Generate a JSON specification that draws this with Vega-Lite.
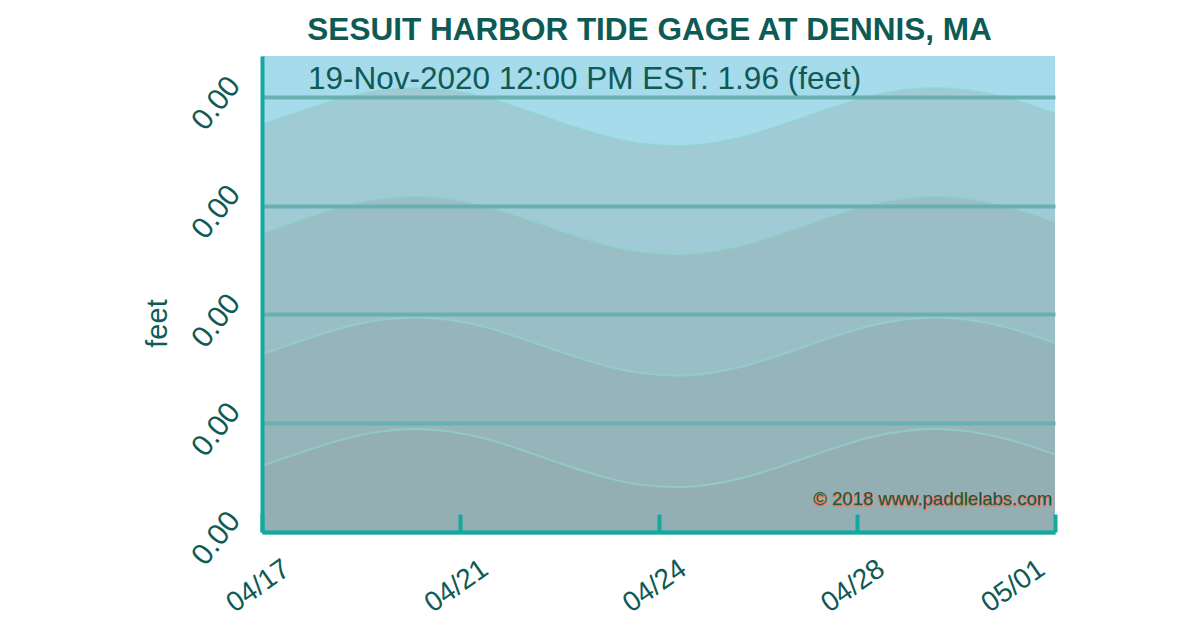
{
  "$schema": "https://vega.github.io/schema/vega-lite/v6.json",
  "width": 793,
  "height": 476,
  "autosize": "none",
  "padding": {"left": 262, "top": 56, "right": 145, "bottom": 98},
  "background": "white",
  "title": {
    "text": "SESUIT HARBOR TIDE GAGE AT DENNIS, MA",
    "fontSize": 31.5,
    "fontWeight": "bold",
    "color": "#0e5a55",
    "anchor": "middle",
    "baseline": "alphabetic",
    "offset": 16,
    "dx": -9,
    "dy": 31
  },
  "datasets": {
    "tide": [
      {"wave": 1, "day": 0, "level": 0.003743},
      {"wave": 1, "day": 0.67, "level": 0.003864},
      {"wave": 1, "day": 1.38, "level": 0.003981},
      {"wave": 1, "day": 2.08, "level": 0.004059},
      {"wave": 1, "day": 2.7, "level": 0.004083},
      {"wave": 1, "day": 3.32, "level": 0.004059},
      {"wave": 1, "day": 4.03, "level": 0.003981},
      {"wave": 1, "day": 4.73, "level": 0.003864},
      {"wave": 1, "day": 5.44, "level": 0.003737},
      {"wave": 1, "day": 6.14, "level": 0.003627},
      {"wave": 1, "day": 6.76, "level": 0.003567},
      {"wave": 1, "day": 7.29, "level": 0.003549},
      {"wave": 1, "day": 7.91, "level": 0.003573},
      {"wave": 1, "day": 8.62, "level": 0.003651},
      {"wave": 1, "day": 9.32, "level": 0.003768},
      {"wave": 1, "day": 10.03, "level": 0.003895},
      {"wave": 1, "day": 10.73, "level": 0.004005},
      {"wave": 1, "day": 11.35, "level": 0.004065},
      {"wave": 1, "day": 11.88, "level": 0.004083},
      {"wave": 1, "day": 12.5, "level": 0.004059},
      {"wave": 1, "day": 13.21, "level": 0.003981},
      {"wave": 1, "day": 14, "level": 0.003848},
      {"wave": 2, "day": 0, "level": 0.00275},
      {"wave": 2, "day": 0.67, "level": 0.002871},
      {"wave": 2, "day": 1.38, "level": 0.002988},
      {"wave": 2, "day": 2.08, "level": 0.003066},
      {"wave": 2, "day": 2.7, "level": 0.00309},
      {"wave": 2, "day": 3.32, "level": 0.003066},
      {"wave": 2, "day": 4.03, "level": 0.002988},
      {"wave": 2, "day": 4.73, "level": 0.002871},
      {"wave": 2, "day": 5.44, "level": 0.002744},
      {"wave": 2, "day": 6.14, "level": 0.002634},
      {"wave": 2, "day": 6.76, "level": 0.002574},
      {"wave": 2, "day": 7.29, "level": 0.002556},
      {"wave": 2, "day": 7.91, "level": 0.00258},
      {"wave": 2, "day": 8.62, "level": 0.002658},
      {"wave": 2, "day": 9.32, "level": 0.002775},
      {"wave": 2, "day": 10.03, "level": 0.002902},
      {"wave": 2, "day": 10.73, "level": 0.003012},
      {"wave": 2, "day": 11.35, "level": 0.003072},
      {"wave": 2, "day": 11.88, "level": 0.00309},
      {"wave": 2, "day": 12.5, "level": 0.003066},
      {"wave": 2, "day": 13.21, "level": 0.002988},
      {"wave": 2, "day": 14, "level": 0.002855},
      {"wave": 3, "day": 0, "level": 0.001633},
      {"wave": 3, "day": 0.67, "level": 0.001754},
      {"wave": 3, "day": 1.38, "level": 0.001871},
      {"wave": 3, "day": 2.08, "level": 0.001949},
      {"wave": 3, "day": 2.7, "level": 0.001973},
      {"wave": 3, "day": 3.32, "level": 0.001949},
      {"wave": 3, "day": 4.03, "level": 0.001871},
      {"wave": 3, "day": 4.73, "level": 0.001754},
      {"wave": 3, "day": 5.44, "level": 0.001627},
      {"wave": 3, "day": 6.14, "level": 0.001517},
      {"wave": 3, "day": 6.76, "level": 0.001457},
      {"wave": 3, "day": 7.29, "level": 0.001439},
      {"wave": 3, "day": 7.91, "level": 0.001463},
      {"wave": 3, "day": 8.62, "level": 0.001541},
      {"wave": 3, "day": 9.32, "level": 0.001658},
      {"wave": 3, "day": 10.03, "level": 0.001785},
      {"wave": 3, "day": 10.73, "level": 0.001895},
      {"wave": 3, "day": 11.35, "level": 0.001955},
      {"wave": 3, "day": 11.88, "level": 0.001973},
      {"wave": 3, "day": 12.5, "level": 0.001949},
      {"wave": 3, "day": 13.21, "level": 0.001871},
      {"wave": 3, "day": 14, "level": 0.001738},
      {"wave": 4, "day": 0, "level": 0.000607},
      {"wave": 4, "day": 0.67, "level": 0.000728},
      {"wave": 4, "day": 1.38, "level": 0.000845},
      {"wave": 4, "day": 2.08, "level": 0.000923},
      {"wave": 4, "day": 2.7, "level": 0.000947},
      {"wave": 4, "day": 3.32, "level": 0.000923},
      {"wave": 4, "day": 4.03, "level": 0.000845},
      {"wave": 4, "day": 4.73, "level": 0.000728},
      {"wave": 4, "day": 5.44, "level": 0.000601},
      {"wave": 4, "day": 6.14, "level": 0.000491},
      {"wave": 4, "day": 6.76, "level": 0.000431},
      {"wave": 4, "day": 7.29, "level": 0.000413},
      {"wave": 4, "day": 7.91, "level": 0.000437},
      {"wave": 4, "day": 8.62, "level": 0.000515},
      {"wave": 4, "day": 9.32, "level": 0.000632},
      {"wave": 4, "day": 10.03, "level": 0.000759},
      {"wave": 4, "day": 10.73, "level": 0.000869},
      {"wave": 4, "day": 11.35, "level": 0.000929},
      {"wave": 4, "day": 11.88, "level": 0.000947},
      {"wave": 4, "day": 12.5, "level": 0.000923},
      {"wave": 4, "day": 13.21, "level": 0.000845},
      {"wave": 4, "day": 14, "level": 0.000712}
    ],
    "reading": [
      {"label": "19-Nov-2020 12:00 PM EST: 1.96 (feet)", "day": 0.81, "level": 0.004074}
    ],
    "credit": [
      {"label": "© 2018 www.paddlelabs.com", "day": 13.95, "level": 0.000248}
    ]
  },
  "layer": [
    {
      "data": {"name": "tide"},
      "mark": {
        "type": "area",
        "interpolate": "monotone",
        "color": "#8fa2a2",
        "fillOpacity": 0.3,
        "line": {"color": "#90d4cc", "strokeWidth": 2, "opacity": 0.7}
      },
      "encoding": {
        "x": {
          "field": "day",
          "type": "quantitative",
          "scale": {"domain": [0, 14], "nice": false},
          "axis": {
            "title": null,
            "values": [0, 3.5, 7, 10.5, 14],
            "labelExpr": "datum.value == 0 ? '04/17' : datum.value == 3.5 ? '04/21' : datum.value == 7 ? '04/24' : datum.value == 10.5 ? '04/28' : '05/01'",
            "labelAngle": -35,
            "labelAlign": "center",
            "labelBaseline": "middle",
            "labelFontSize": 28,
            "labelColor": "#0e5a55",
            "labelPadding": 72,
            "labelFlush": false,
            "labelOverlap": false,
            "labelOffset": {"condition": {"test": "datum.value == 14", "value": -42}, "value": -4},
            "tickSize": -18,
            "tickWidth": 4,
            "tickColor": "#14a99f",
            "domainColor": "#14a99f",
            "domainWidth": 4,
            "grid": false,
            "zindex": 1
          }
        },
        "y": {
          "field": "level",
          "type": "quantitative",
          "stack": null,
          "scale": {"domain": [0, 0.004377], "nice": false},
          "axis": {
            "title": "feet",
            "titleFontSize": 29,
            "titleFontWeight": "normal",
            "titleColor": "#0e5a55",
            "titleX": -90,
            "titleY": 267,
            "values": [0, 0.001, 0.002, 0.003, 0.004],
            "format": ".2f",
            "ticks": false,
            "labelAngle": -52,
            "labelAlign": "center",
            "labelBaseline": "middle",
            "labelFontSize": 30,
            "labelColor": "#0e5a55",
            "labelPadding": 46,
            "labelOffset": 6,
            "labelOverlap": false,
            "domainColor": "#14a99f",
            "domainWidth": 4,
            "gridColor": "#6ab0b1",
            "gridWidth": 4,
            "gridOpacity": 1,
            "zindex": 1
          }
        },
        "detail": {"field": "wave", "type": "nominal"}
      }
    },
    {
      "data": {"name": "reading"},
      "mark": {"type": "text", "align": "left", "baseline": "alphabetic", "fontSize": 31.5, "color": "#0e5a55"},
      "encoding": {
        "x": {"field": "day", "type": "quantitative"},
        "y": {"field": "level", "type": "quantitative"},
        "text": {"field": "label"}
      }
    },
    {
      "data": {"name": "credit"},
      "mark": {"type": "text", "align": "right", "baseline": "alphabetic", "fontSize": 18.5, "color": "#ef7444", "stroke": "#ef7444", "strokeWidth": 1.2, "dx": 0.5, "dy": 1},
      "encoding": {
        "x": {"field": "day", "type": "quantitative"},
        "y": {"field": "level", "type": "quantitative"},
        "text": {"field": "label"}
      }
    },
    {
      "data": {"name": "credit"},
      "mark": {"type": "text", "align": "right", "baseline": "alphabetic", "fontSize": 18.5, "color": "#0e5a55"},
      "encoding": {
        "x": {"field": "day", "type": "quantitative"},
        "y": {"field": "level", "type": "quantitative"},
        "text": {"field": "label"}
      }
    }
  ],
  "config": {
    "font": "Liberation Sans",
    "view": {"fill": "#a6dbec", "stroke": null}
  }
}
